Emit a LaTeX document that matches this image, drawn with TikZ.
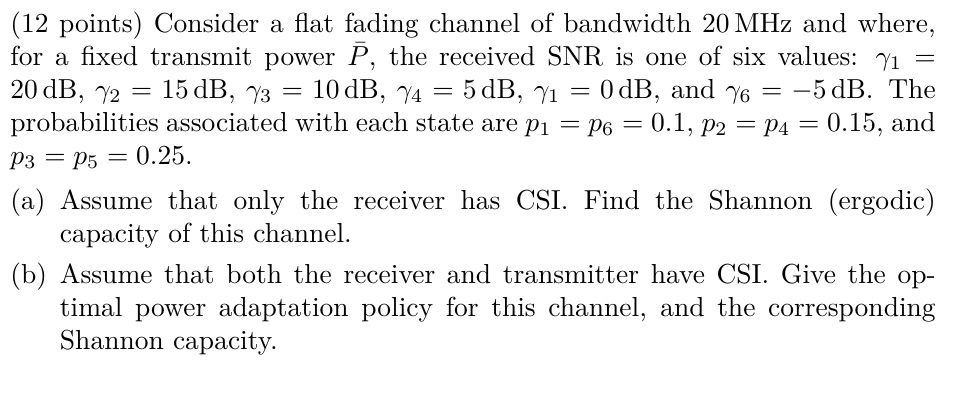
\documentclass[tikz,border=0pt]{standalone}
\usepackage{amsmath}
\begin{document}
\begin{tikzpicture}
\useasboundingbox (0,0) rectangle (351.3pt,-149.1pt);
\node[anchor=north west,inner sep=0pt] (txt) at (3.6pt,-4pt) {\begin{minipage}{336.5pt}
\fontsize{10pt}{12pt}\selectfont\sloppy
(12 points) Consider a flat fading channel of bandwidth 20\,MHz and where,\linebreak for a fixed transmit power $\bar P$, the received SNR is one of six values: $\gamma_1 =$\linebreak $20\,\mathrm{dB}$, $\gamma_2 = 15\,\mathrm{dB}$, $\gamma_3 = 10\,\mathrm{dB}$, $\gamma_4 = 5\,\mathrm{dB}$, $\gamma_1 = 0\,\mathrm{dB}$, and $\gamma_6 = -5\,\mathrm{dB}$. The\linebreak probabilities associated with each state are $p_1 = p_6 = 0.1$, $p_2 = p_4 = 0.15$, and\linebreak $p_3 = p_5 = 0.25$.\par
\vspace{4.5pt}
\noindent\hangindent=18pt\hangafter=1\makebox[18pt][l]{(a)}Assume that only the receiver has CSI. Find the Shannon (ergodic)\linebreak capacity of this channel.\par
\vspace{3pt}
\noindent\hangindent=18pt\hangafter=1\makebox[18pt][l]{(b)}Assume that both the receiver and transmitter have CSI. Give the op-\linebreak timal power adaptation policy for this channel, and the corresponding\linebreak Shannon capacity.\par
\end{minipage}};
\end{tikzpicture}
\end{document}
